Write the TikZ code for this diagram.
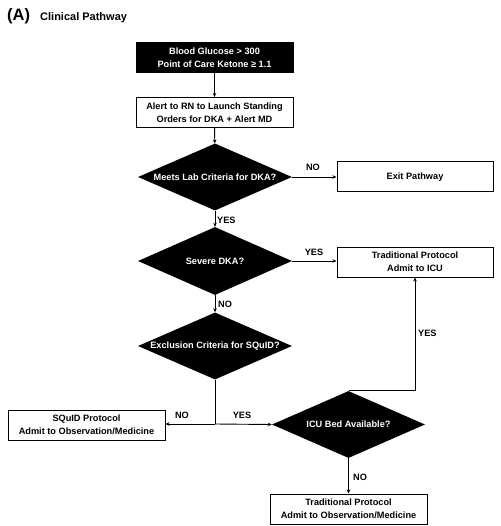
\documentclass[tikz,border=0pt]{standalone}
\usepackage{fontspec}
\setmainfont{Liberation Sans}
\usetikzlibrary{shapes.geometric,arrows.meta}
\begin{document}
\begin{tikzpicture}[x=1pt,y=-1pt,
  font=\fontsize{9.2}{13.3}\selectfont\bfseries,
  box/.style={draw,line width=1pt,minimum width=157pt,minimum height=30pt,inner sep=0pt,align=center},
  darkbox/.style={box,fill=black,text=white},
  dec/.style={shape=diamond,fill=black,text=white,aspect=2.33,inner sep=0pt,minimum width=154pt,minimum height=67pt},
  conn/.style={line width=0.9pt,-{Stealth[length=4pt,width=3.5pt]}},
  line/.style={line width=0.9pt},
  lab/.style={inner sep=0pt}]
\useasboundingbox (0,0) rectangle (500,526);
\node[anchor=west,inner sep=0pt,font=\fontsize{16.5}{18}\selectfont\bfseries] (A) at (7,16) {(A)};
\node[anchor=west,inner sep=0pt,font=\fontsize{11}{13}\selectfont\bfseries] (title) at (40,17.5) {Clinical Pathway};

\node[darkbox] (b1) at (214.5,58) {Blood Glucose > 300\\Point of Care Ketone ≥ 1.1};
\node[box] (b2) at (214.5,112.5) {Alert to RN to Launch Standing\\Orders for DKA + Alert MD};
\node[dec] (d1) at (215,177) {Meets Lab Criteria for DKA?};
\node[box,minimum width=156pt] (exit) at (415,177) {Exit Pathway};
\node[dec,minimum height=68pt] (d2) at (215,261) {Severe DKA?};
\node[box,minimum width=156pt] (icu) at (415,262) {Traditional Protocol\\Admit to ICU};
\node[dec] (d3) at (215,346) {Exclusion Criteria for SQuID?};
\coordinate (j) at (215,424);
\node[box] (squid) at (86.5,425) {SQuID Protocol\\Admit to Observation/Medicine};
\node[dec,minimum width=153pt] (d4) at (348.5,424.5) {ICU Bed Available?};
\node[box] (obs) at (348.5,509) {Traditional Protocol\\Admit to Observation/Medicine};

\draw[conn] (b1) -- (b2);
\draw[conn] (b2) -- (d1);
\draw[conn] (d1) -- (exit);
\draw[conn] (d1) -- (d2);
\draw[conn] (d2) -- (icu.west |- d2);
\draw[conn] (d2) -- (d3);
\draw[line] (d3.south) -- (j);
\draw[conn] (j) -- (squid.east |- j);
\draw[conn] (j) -- (d4.west);
\draw[conn] (d4.north) -| (icu.south);
\draw[conn] (d4) -- (obs);

\node[lab] (l1) at (313,167) {NO};
\node[lab,anchor=west] (l2) at (217,220) {YES};
\node[lab] (l3) at (314,252) {YES};
\node[lab,anchor=west] (l4) at (218,304) {NO};
\node[lab,anchor=west] (l5) at (418,333) {YES};
\node[lab] (l6) at (182,415) {NO};
\node[lab] (l7) at (242,415) {YES};
\node[lab,anchor=west] (l8) at (353,477) {NO};
\end{tikzpicture}
\end{document}
